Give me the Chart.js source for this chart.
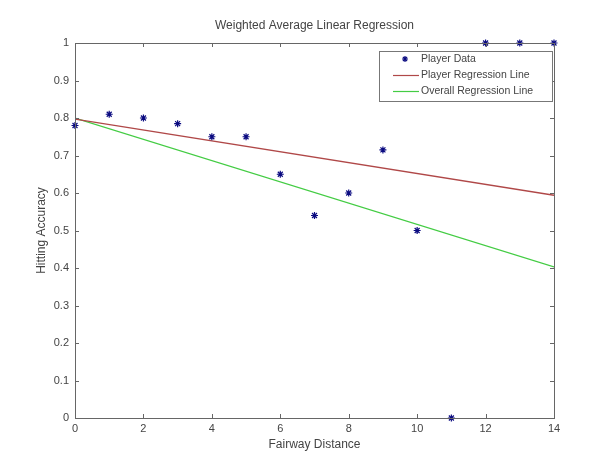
<!DOCTYPE html>
<html>
<head>
<meta charset="utf-8">
<script src="https://cdn.jsdelivr.net/npm/chart.js@4.4.0/dist/chart.umd.min.js"></script>
<style>
html,body{margin:0;padding:0;background:#fff;}
#wrap{width:616px;height:462px;}
</style>
</head>
<body>
<div id="wrap"><canvas id="c" width="616" height="462"></canvas></div>
<script>
const chartTitle = "Weighted Average Linear Regression";
const xTitle = "Fairway Distance";
const yTitle = "Hitting Accuracy";
const distances = [0,1,2,3,4,5,6,7,8,9,10,11,12,13,14];
const accuracy = [0.78,0.81,0.80,0.785,0.75,0.75,0.65,0.54,0.60,0.715,0.50,0.00,1.00,1.00,1.00];
const lineX = [0,14];
const playerLineY = [0.797,0.594];
const overallLineY = [0.80,0.403];
const legendLabels = ["Player Data","Player Regression Line","Overall Regression Line"];
const xTicks = [0,2,4,6,8,10,12,14];
const yTicks = [0,0.1,0.2,0.3,0.4,0.5,0.6,0.7,0.8,0.9,1];

const FONT = "'Liberation Sans', Arial, sans-serif";
const TXT = "#444";
const BOX = "#666";
const MARK = "#0a0a80";
const RED = "#b04848";
const GREEN = "#44cc44";

const boxPlugin = {
  id: 'boxPlugin',
  afterDraw(chart){
    const {ctx, chartArea:a, scales:{x, y}} = chart;
    ctx.save();
    ctx.strokeStyle = BOX;
    ctx.lineWidth = 1;
    ctx.strokeRect(Math.round(a.left)+0.5, Math.round(a.top)+0.5, Math.round(a.right-a.left), Math.round(a.bottom-a.top));
    const L = 4;
    ctx.beginPath();
    xTicks.forEach(v=>{
      const px = Math.round(x.getPixelForValue(v))+0.5;
      ctx.moveTo(px, a.bottom); ctx.lineTo(px, a.bottom-L);
      ctx.moveTo(px, a.top); ctx.lineTo(px, a.top+L);
    });
    yTicks.forEach(v=>{
      const py = Math.round(y.getPixelForValue(v))+0.5;
      ctx.moveTo(a.left, py); ctx.lineTo(a.left+L, py);
      ctx.moveTo(a.right, py); ctx.lineTo(a.right-L, py);
    });
    ctx.stroke();
    // title
    ctx.fillStyle = TXT;
    ctx.font = "12px " + FONT;
    ctx.textAlign = "center";
    ctx.textBaseline = "middle";
    ctx.fillText(chartTitle, (a.left+a.right)/2, 26);
    // legend
    const lx = 379, ly = 51, lw = 173, lh = 50;
    ctx.fillStyle = "#fff";
    ctx.fillRect(lx, ly, lw, lh);
    ctx.strokeStyle = "#777";
    ctx.strokeRect(lx+0.5, ly+0.5, lw, lh);
    const rows = [59, 75, 91];
    ctx.font = "10.5px " + FONT;
    ctx.textAlign = "left";
    legendLabels.forEach((t,i)=>{
      ctx.fillStyle = TXT;
      ctx.fillText(t, 421, rows[i]);
    });
    // marker sample
    ctx.strokeStyle = MARK; ctx.lineWidth = 1.2;
    const mx = 405, my = rows[0], r = 3;
    ctx.beginPath();
    for (let k=0;k<4;k++){
      const ang = k*Math.PI/4;
      ctx.moveTo(mx+Math.cos(ang)*r, my+Math.sin(ang)*r);
      ctx.lineTo(mx-Math.cos(ang)*r, my-Math.sin(ang)*r);
    }
    ctx.stroke();
    ctx.lineWidth = 1.2;
    ctx.strokeStyle = RED;
    ctx.beginPath(); ctx.moveTo(393, rows[1]+0.5); ctx.lineTo(419, rows[1]+0.5); ctx.stroke();
    ctx.strokeStyle = GREEN;
    ctx.beginPath(); ctx.moveTo(393, rows[2]+0.5); ctx.lineTo(419, rows[2]+0.5); ctx.stroke();
    ctx.restore();
  }
};

new Chart(document.getElementById('c'), {
  type: 'scatter',
  data: {
    datasets: [
      {
        label: legendLabels[1],
        type: 'line',
        data: lineX.map((v,i)=>({x:v, y:playerLineY[i]})),
        borderColor: RED, borderWidth: 1.3, pointRadius: 0, fill: false, order: 2
      },
      {
        label: legendLabels[2],
        type: 'line',
        data: lineX.map((v,i)=>({x:v, y:overallLineY[i]})),
        borderColor: GREEN, borderWidth: 1.3, pointRadius: 0, fill: false, order: 3
      },
      {
        label: legendLabels[0],
        data: distances.map((v,i)=>({x:v, y:accuracy[i]})),
        pointStyle: 'star', pointRadius: 3.5, borderColor: MARK, backgroundColor: MARK,
        borderWidth: 1.2, clip: false, order: 1
      }
    ]
  },
  options: {
    responsive: false,
    animation: false,
    devicePixelRatio: 1,
    layout: { padding: { top: 43, right: 62, left: 34, bottom: 10 } },
    plugins: { legend: { display: false }, title: { display: false }, tooltip: { enabled: false } },
    scales: {
      x: {
        type: 'linear', min: 0, max: 14,
        afterBuildTicks: s => { s.ticks = xTicks.map(v=>({value:v})); },
        afterFit: s => { s.height = 34; },
        grid: { display: false, drawTicks: false },
        border: { display: false },
        ticks: { color: TXT, font: { family: FONT, size: 11 }, padding: 4, maxRotation: 0,
          callback: v => String(v) },
        title: { display: true, text: xTitle, color: TXT, font: { family: FONT, size: 12 }, padding: { top: 4, bottom: 0 } }
      },
      y: {
        type: 'linear', min: 0, max: 1,
        afterBuildTicks: s => { s.ticks = yTicks.map(v=>({value:v})); },
        afterFit: s => { s.width = 41; },
        grid: { display: false, drawTicks: false },
        border: { display: false },
        ticks: { color: TXT, font: { family: FONT, size: 11 }, padding: 6,
          callback: v => (Math.round(v*10)/10).toString() },
        title: { display: true, text: yTitle, color: TXT, font: { family: FONT, size: 12 }, padding: { top: 0, bottom: 0 } }
      }
    }
  },
  plugins: [boxPlugin]
});
</script>
</body>
</html>
